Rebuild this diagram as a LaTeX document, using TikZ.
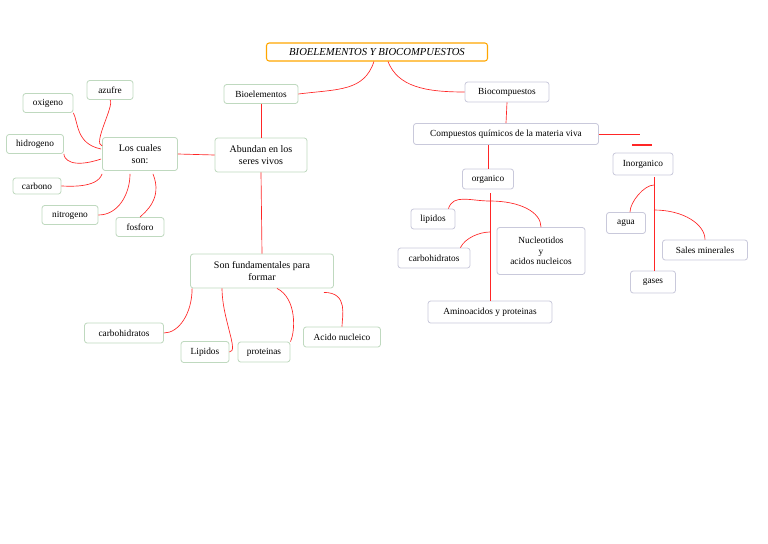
\documentclass[tikz,border=0pt]{standalone}
\usepackage{fontspec}
\setmainfont{Liberation Serif}
\begin{document}
\begin{tikzpicture}[x=0.75pt,y=-0.75pt,
 gb/.style={draw=green!25!gray!40,line width=0.6pt,rounded corners=2pt,fill=white,inner sep=0pt,font=\fontsize{7}{8}\selectfont,align=center},
 bb/.style={draw=blue!20!gray!35,line width=0.6pt,rounded corners=2pt,fill=white,inner sep=0pt,font=\fontsize{7}{8}\selectfont,align=center},
 tb/.style={draw=orange!70!yellow,line width=0.8pt,rounded corners=2pt,fill=white,inner sep=0pt,font=\fontsize{8}{9}\selectfont\itshape},
 ln/.style={draw=red!85!white,line width=0.5pt}]
\useasboundingbox (0,0) rectangle (768,543);
\node[tb,minimum width=165.75pt,minimum height=13.5pt] (title) at (377,52) {BIOELEMENTOS Y BIOCOMPUESTOS};
\node[gb,minimum width=55.5pt,minimum height=14.25pt] (bioe) at (261,94) {Bioelementos};
\node[bb,minimum width=63pt,minimum height=15pt] (bioc) at (507,92) {Biocompuestos};
\node[bb,minimum width=138.75pt,minimum height=15.75pt] (comp) at (506,134) {Compuestos químicos de la materia viva};
\node[bb,minimum width=38.25pt,minimum height=15pt] (org) at (488,179) {organico};
\node[bb,minimum width=45pt,minimum height=16.5pt] (inorg) at (643,164) {Inorganico};
\node[bb,minimum width=33pt,minimum height=15pt] (lip2) at (433,219) {lipidos};
\node[bb,minimum width=54pt,minimum height=15pt] (carb2) at (434,258) {carbohidratos};
\node[bb,minimum width=66pt,minimum height=35.25pt] (nuc) at (541,251) {Nucleotidos\\y\\acidos nucleicos};
\node[bb,minimum width=93pt,minimum height=16.5pt] (amino) at (490,312) {Aminoacidos y proteinas};
\node[bb,minimum width=29.25pt,minimum height=15.75pt] (agua) at (626,223) {agua};
\node[bb,minimum width=63.75pt,minimum height=15pt] (sales) at (705,250) {Sales minerales};
\node[bb,minimum width=33.75pt,minimum height=16.5pt] (gases) at (653,282) {gases};
\node[gb,minimum width=69pt,minimum height=25.5pt,font=\fontsize{7.5}{9.5}\selectfont] (abun) at (261,155) {Abundan en los\\seres vivos};
\node[gb,minimum width=56.25pt,minimum height=24.75pt,font=\fontsize{7.5}{9.5}\selectfont] (los) at (140,154) {Los cuales\\son:};
\node[gb,minimum width=34.5pt,minimum height=14.25pt] (azu) at (110,90) {azufre};
\node[gb,minimum width=37.5pt,minimum height=14.25pt] (oxi) at (48,103) {oxigeno};
\node[gb,minimum width=42.75pt,minimum height=14.25pt] (hid) at (35,144) {hidrogeno};
\node[gb,minimum width=36pt,minimum height=12pt] (carbo) at (37,186) {carbono};
\node[gb,minimum width=42pt,minimum height=14.25pt] (nit) at (70,215) {nitrogeno};
\node[gb,minimum width=36pt,minimum height=14.25pt] (fos) at (140,227) {fosforo};
\node[gb,minimum width=107.25pt,minimum height=25.5pt,font=\fontsize{7.5}{9.5}\selectfont] (son) at (262,271) {Son fundamentales para\\formar};
\node[gb,minimum width=59.25pt,minimum height=15pt] (carb1) at (124,333) {carbohidratos};
\node[gb,minimum width=36pt,minimum height=15.75pt] (lip1) at (205,352) {Lipidos};
\node[gb,minimum width=39pt,minimum height=15pt] (prot) at (264,352) {proteinas};
\node[gb,minimum width=57.75pt,minimum height=15pt] (acido) at (342,337) {Acido nucleico};
\coordinate (c1) at (640,134);
\coordinate (c2a) at (632,145);
\coordinate (c2b) at (652,145);
\draw[ln] (title.south west)++(108,0) .. controls +(-10,30) and +(40,-5) .. (bioe.east);
\draw[ln] (title.south west)++(122,0) .. controls +(10,25) and +(-40,0) .. (bioc.west);
\draw[ln] (bioe.south) -- (abun.north);
\draw[ln] (abun.west) -- (los.east);
\draw[ln] (abun.south) -- (son.north);
\draw[ln] (bioc.south) -- (comp.north);
\draw[ln] (comp.east) -- (c1);
\draw[ln,line width=0.8pt] (c2a) -- (c2b);
\draw[ln] (comp.south-|org.north) -- (org.north);
\draw[ln] (los.west)++(0,-8) .. controls +(-10,-2) and +(5,5) .. (azu.south);
\draw[ln] (los.west)++(-1,-5) .. controls +(-25,-5) and +(5,10) .. (oxi.south east);
\draw[ln] (los.west)++(-1,5) .. controls +(-30,10) and +(0,5) .. (hid.south east);
\draw[ln] (los.south west)++(0,3) .. controls +(-5,15) and +(5,0) .. (carbo.east);
\draw[ln] (los.south)++(-10,3) .. controls +(0,20) and +(20,0) .. (nit.east);
\draw[ln] (los.south)++(13,3) .. controls +(10,25) and +(5,-5) .. (fos.north);
\draw[ln] (son.south west)++(2,0) .. controls +(0,25) and +(15,0) .. (carb1.east);
\draw[ln] (son.south)++(-40,0) .. controls +(0,30) and +(10,0) .. (lip1.east);
\draw[ln] (son.south)++(15,0) .. controls +(20,10) and +(5,-10) .. (prot.north east);
\draw[ln] (son.south east)++(-10,4) .. controls +(25,0) and +(0,-10) .. (acido.north);
\coordinate (ot) at (490,193);
\draw[ln] (ot) -- (amino.north-|ot);
\draw[ln] (lip2.north east)++(-7,0) .. controls +(5,-15) and +(-20,0) .. (490,201);
\draw[ln] (490,201) .. controls +(30,0) and +(0,-15) .. (nuc.north);
\draw[ln] (carb2.north east)++(-10,0) .. controls +(5,-10) and +(-10,0) .. (490,232);
\coordinate (it) at (654,177);
\draw[ln] (it) -- (gases.north-|it);
\draw[ln] (agua.north)++(4,0) .. controls +(0,-10) and +(-10,0) .. (654,185);
\draw[ln] (654,210) .. controls +(30,0) and +(0,-15) .. (sales.north);
\end{tikzpicture}
\end{document}
